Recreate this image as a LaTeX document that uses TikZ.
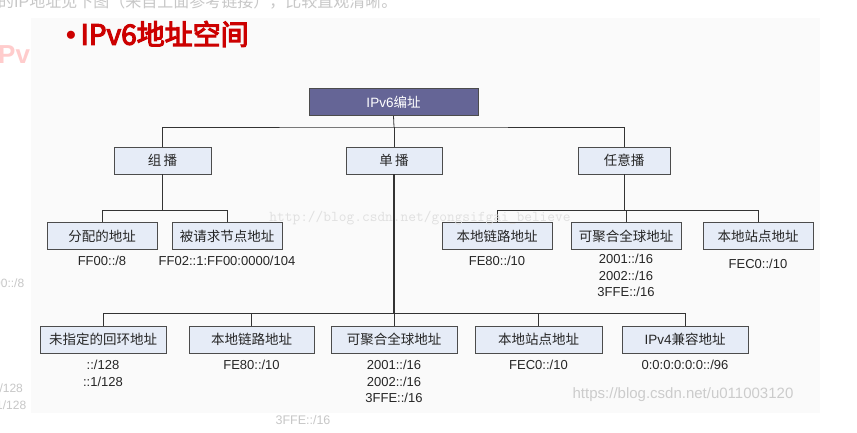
\documentclass[tikz,border=0pt]{standalone}
\usepackage{fontspec}
\setmainfont{Liberation Sans}
\newfontfamily\cjk{Noto Sans CJK SC}[AutoFakeBold=4]
\definecolor{rootc}{RGB}{101,101,150}
\definecolor{boxc}{RGB}{230,236,247}
\begin{document}
\begin{tikzpicture}[x=1pt,y=-1pt,
  bx/.style={draw=black!70,fill=boxc,line width=0.8pt,minimum height=27pt,text=black!85,font=\fontsize{13.5}{13.5}\selectfont,inner sep=0pt},
  lab/.style={text=black!85,font=\fontsize{13}{16.5}\selectfont,align=center,anchor=north,inner sep=0pt},
  ln/.style={draw=black!80,line width=0.8pt},
  faint/.style={text=black!22,inner sep=0pt}]
\useasboundingbox (0,0) rectangle (857,433);
\fill[white] (0,0) rectangle (857,433);
% faint background page
\node[faint,anchor=west,font=\fontsize{16}{16}\selectfont] (bgt) at (-2,2) {{\cjk 的}IP{\cjk 地址见下图（来自上面参考链接），比较直观清晰。}};
\node[text=red!20,anchor=west,inner sep=0pt,font=\fontsize{26}{26}\selectfont\bfseries] (bgp) at (-2,55) {Pv};
\node[faint,font=\fontsize{12.5}{12.5}\selectfont] (bg3) at (303,420) {3FFE::/16};
\node[faint,anchor=west,font=\fontsize{12}{12}\selectfont] (bgl1) at (-6,283) {00::/8};
\node[faint,anchor=west,font=\fontsize{12}{12}\selectfont] (bgl2) at (-4,388) {:/128};
\node[faint,anchor=west,font=\fontsize{12}{12}\selectfont] (bgl3) at (-4,405) {1/128};
% panel
\fill[black!2] (31,18) rectangle (820,413);
\node[text=red!80!black,anchor=west,inner sep=0pt,font=\fontsize{28}{28}\selectfont\bfseries] (title) at (66,34) {\textbullet\,{\cjk\bfseries IPv6地址空间}};
% root
\node[bx,fill=rootc,text=white,minimum width=169pt] (root) at (393.5,102) {IPv6{\cjk 编址}};
\node[bx,minimum width=97pt] (mc) at (162.5,160.5) {{\cjk 组\,播}};
\node[bx,minimum width=96pt] (uc) at (394,160.5) {{\cjk 单\,播}};
\node[bx,minimum width=92pt] (ac) at (624,160.5) {{\cjk 任意播}};
\draw[ln] (root.south) -- (394,127);
\draw[ln] (mc.north) |- (394,127) -| (ac.north);
\draw[ln] (394,127) -- (uc.north);
% multicast
\node[bx,minimum width=110pt] (m1) at (102,236) {{\cjk 分配的地址}};
\node[bx,minimum width=110pt] (m2) at (227,236) {{\cjk 被请求节点地址}};
\draw[ln] (mc.south) -- (162.5,210);
\draw[ln] (m1.north) |- (m2.north |- 0,210) -- (m2.north);
\node[lab] (m1l) at (102,256) {FF00::/8};
\node[lab] (m2l) at (227,256) {FF02::1:FF00:0000/104};
% anycast
\node[bx,minimum width=110pt] (a1) at (497,236) {{\cjk 本地链路地址}};
\node[bx,minimum width=110pt] (a2) at (626,236) {{\cjk 可聚合全球地址}};
\node[bx,minimum width=110pt] (a3) at (758,236) {{\cjk 本地站点地址}};
\draw[ln] (ac.south) -- (624,210);
\draw[ln] (a1.north) |- (a3.north |- 0,210) -- (a3.north);
\draw[ln] (a2.north) -- (a2.north |- 0,210);
\node[lab] (a1l) at (497,256) {FE80::/10};
\node[lab] (a2l) at (626,254) {2001::/16\\2002::/16\\3FFE::/16};
\node[lab] (a3l) at (758,259) {FEC0::/10};
% unicast
\node[bx,minimum width=126pt] (u1) at (103,339.5) {{\cjk 未指定的回环地址}};
\node[bx,minimum width=125pt] (u2) at (251.5,339.5) {{\cjk 本地链路地址}};
\node[bx,minimum width=126pt] (u3) at (394,339.5) {{\cjk 可聚合全球地址}};
\node[bx,minimum width=127pt] (u4) at (538.5,339.5) {{\cjk 本地站点地址}};
\node[bx,minimum width=126pt] (u5) at (685,339.5) {IPv4{\cjk 兼容地址}};
\draw[ln,line width=1.2pt] (uc.south) -- (394,313);
\draw[ln] (u1.north) |- (u5.north |- 0,313) -- (u5.north);
\draw[ln] (u2.north) -- (u2.north |- 0,313);
\draw[ln] (u3.north) -- (u3.north |- 0,313);
\draw[ln] (u4.north) -- (u4.north |- 0,313);
\node[lab] (u1l) at (103,360) {::/128\\::1/128};
\node[lab] (u2l) at (251.5,360) {FE80::/10};
\node[lab] (u3l) at (394,360) {2001::/16\\2002::/16\\3FFE::/16};
\node[lab] (u4l) at (538.5,360) {FEC0::/10};
\node[lab] (u5l) at (685,360) {0:0:0:0:0:0::/96};
% watermarks
\node[text=black!20,inner sep=0pt,font=\fontsize{15}{15}\selectfont] (wm) at (683,395) {https://blog.csdn.net/u011003120};
\node[text=black!12,inner sep=0pt,font=\ttfamily\fontsize{15}{15}\selectfont] (wm2) at (420,218) {http://blog.csdn.net/gongsifgai\_believe};
\end{tikzpicture}
\end{document}
